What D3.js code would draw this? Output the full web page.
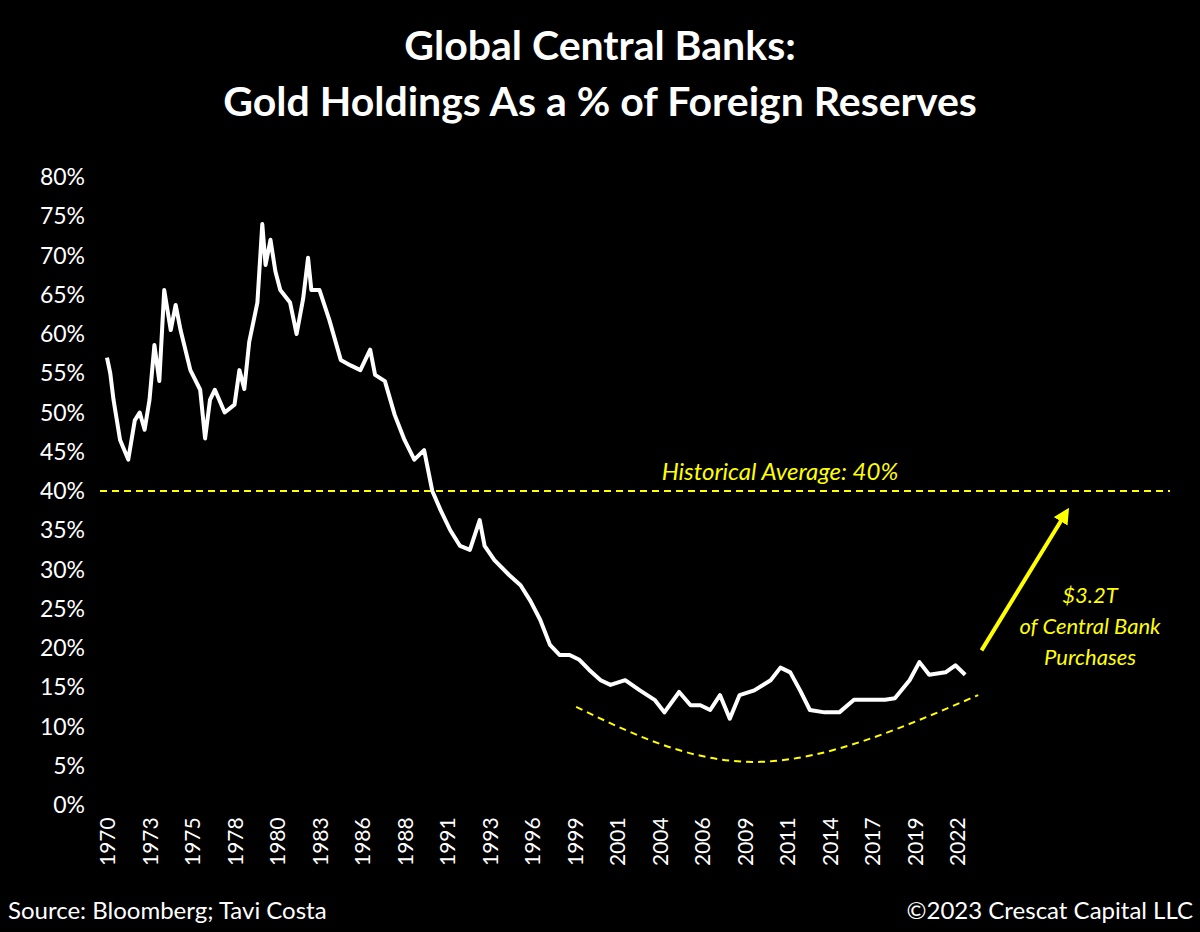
<!DOCTYPE html>
<html>
<head>
<meta charset="utf-8">
<script src="https://cdn.jsdelivr.net/npm/d3@7"></script>
<style>
body { margin: 0; background: #000; }
svg { display: block; font-family: Lato, "Open Sans", sans-serif; }
</style>
</head>
<body>
<svg id="chart" width="1200" height="932"></svg>
<script>
// gold as % of reserves
const years = [1970.0,1970.2,1970.4,1970.8,1971.3,1971.7,1972.0,1972.3,1972.6,1972.9,1973.2,1973.5,1973.9,1974.2,1974.5,1975.1,1975.7,1976.0,1976.3,1976.6,1977.2,1977.8,1978.1,1978.4,1978.7,1979.2,1979.5,1979.7,1980.0,1980.3,1980.6,1981.2,1981.6,1982.0,1982.3,1982.5,1983.0,1983.6,1984.3,1984.9,1985.5,1986.1,1986.4,1987.0,1987.6,1988.2,1988.8,1989.4,1989.9,1990.4,1991.0,1991.6,1992.2,1992.8,1993.1,1993.7,1994.6,1995.3,1995.9,1996.5,1997.1,1997.7,1998.3,1998.9,1999.5,2000.2,2000.8,2001.7,2002.6,2003.5,2004.1,2005.0,2005.7,2006.3,2006.9,2007.5,2008.1,2008.7,2009.6,2010.6,2011.2,2011.8,2012.4,2013.0,2013.9,2014.8,2015.7,2016.7,2017.6,2018.2,2019.1,2019.7,2020.3,2021.3,2021.9,2022.5];
const values = [57,55,51.6,46.5,44,49,50,47.8,51.6,58.6,54,65.6,60.5,63.7,60.5,55.4,52.9,46.7,51.6,52.9,50,51,55.4,53,59,64,74,68.8,72,68,65.6,64,60,64.5,69.7,65.6,65.6,61.8,56.7,56,55.4,58,54.8,54,49.7,46.5,44,45.2,40,37.6,35,33,32.5,36.3,33,31.2,29.3,28,26,23.6,20.4,19.1,19.1,18.5,17.2,15.9,15.3,15.9,14.6,13.4,11.8,14.4,12.7,12.7,12.1,14,11,14,14.6,15.9,17.5,16.9,14.6,12.1,11.8,11.8,13.4,13.4,13.4,13.6,15.9,18.2,16.6,16.9,17.8,16.6];
const yTicks = [0,5,10,15,20,25,30,35,40,45,50,55,60,65,70,75,80];
const xTickLabels = ["1970","1973","1975","1978","1980","1983","1986","1988","1991","1993","1996","1999","2001","2004","2006","2009","2011","2014","2017","2019","2022"];
const histAvg = 40;
const arcYears = [1998.7, 2010, 2023.3];
const arcValues = [12.5, 5.5, 14];
const arrowYears = [2023.5, 2028.6];
const arrowValues = [19.7, 37];

const svg = d3.select("#chart");
const x = d3.scaleLinear().domain([1970, 2022]).range([107, 957]);
const y = d3.scaleLinear().domain([0, 80]).range([805, 177]);
const yellow = "#ffff00";

svg.append("rect").attr("width", 1200).attr("height", 932).attr("fill", "#000");

// title
svg.append("text").attr("x", 600).attr("y", 60).attr("text-anchor", "middle")
    .attr("fill", "#fff").attr("font-size", 41).attr("font-weight", "bold")
    .text("Global Central Banks:");
svg.append("text").attr("x", 600).attr("y", 116).attr("text-anchor", "middle")
    .attr("fill", "#fff").attr("font-size", 41).attr("font-weight", "bold")
    .text("Gold Holdings As a % of Foreign Reserves");

// y labels
svg.selectAll(".yl").data(yTicks).enter().append("text")
    .attr("x", 85).attr("y", d => y(d) + 8).attr("text-anchor", "end")
    .attr("fill", "#fff").attr("font-size", 23)
    .text(d => d + "%");

// x labels, rotated
svg.selectAll(".xl").data(xTickLabels).enter().append("text")
    .attr("transform", (d, i) => "translate(" + (x(1970 + i * 2.6) + 8) + ",866) rotate(-90)")
    .attr("fill", "#fff").attr("font-size", 21)
    .text(d => d);

// historical average
svg.append("line").attr("x1", 100).attr("x2", 1170)
    .attr("y1", y(histAvg)).attr("y2", y(histAvg))
    .attr("stroke", yellow).attr("stroke-width", 2).attr("stroke-dasharray", "7,5");
svg.append("text").attr("x", 780).attr("y", y(histAvg) - 11).attr("text-anchor", "middle")
    .attr("fill", yellow).attr("font-size", 24).attr("font-style", "italic")
    .text("Historical Average: " + histAvg + "%");

// series
const line = d3.line().x((d, i) => x(years[i])).y(d => y(d));
svg.append("path").datum(values).attr("d", line)
    .attr("fill", "none").attr("stroke", "#fff").attr("stroke-width", 4)
    .attr("stroke-linejoin", "round");

// bottom arc
const arc = d3.line().curve(d3.curveNatural).x((d, i) => x(arcYears[i])).y(d => y(d));
svg.append("path").datum(arcValues).attr("d", arc)
    .attr("fill", "none").attr("stroke", yellow).attr("stroke-width", 2).attr("stroke-dasharray", "7,5");

// arrow
svg.append("defs").append("marker").attr("id", "ah")
    .attr("viewBox", "0 0 10 10").attr("refX", 5).attr("refY", 5)
    .attr("markerWidth", 4).attr("markerHeight", 4).attr("orient", "auto")
    .append("path").attr("d", "M0,0L10,5L0,10Z").attr("fill", yellow);
svg.append("line")
    .attr("x1", x(arrowYears[0])).attr("y1", y(arrowValues[0]))
    .attr("x2", x(arrowYears[1])).attr("y2", y(arrowValues[1]))
    .attr("stroke", yellow).attr("stroke-width", 4).attr("marker-end", "url(#ah)");

["$3.2T", "of Central Bank", "Purchases"].forEach(function (t, i) {
    svg.append("text").attr("x", 1090).attr("y", 603 + i * 31).attr("text-anchor", "middle")
        .attr("fill", yellow).attr("font-size", 22).attr("font-style", "italic").text(t);
});

// footer
svg.append("text").attr("x", 8).attr("y", 919).attr("fill", "#fff").attr("font-size", 24)
    .text("Source: Bloomberg; Tavi Costa");
svg.append("text").attr("x", 1193).attr("y", 919).attr("text-anchor", "end")
    .attr("fill", "#fff").attr("font-size", 24).text("©2023 Crescat Capital LLC");
</script>
</body>
</html>
